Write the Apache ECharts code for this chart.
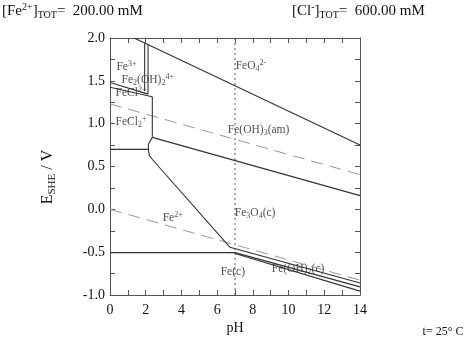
<!DOCTYPE html>
<html><head><meta charset="utf-8">
<script src="https://cdn.jsdelivr.net/npm/echarts@6/dist/echarts.min.js"></script>
<style>html,body{margin:0;padding:0;background:#fff}#c{width:474px;height:340px}</style>
</head><body><div id="c"></div>
<script>
// ---- data (pH, E / V) ----
const xTickLabels = ['0','2','4','6','8','10','12','14'];
const yTickLabels = ['-1.0','-0.5','0.0','0.5','1.0','1.5','2.0'];
const feo4Line   = [[1.35, 2.0], [14, 0.75]];
const fe3VertA   = [[1.94, 1.938], [1.94, 1.38]];
const fe3VertB   = [[2.13, 1.92], [2.13, 1.345]];
const feclUpper  = [[0, 1.48], [2.13, 1.345]];
const feclLower  = [[0, 1.425], [2.37, 1.315]];
const fecl2Vert  = [[2.37, 1.315], [2.37, 0.84]];
const feoh3Fe3o4 = [[2.37, 0.84], [14, 0.16]];
const fe2Fe3o4   = [[2.37, 0.84], [2.15, 0.76], [2.15, 0.70], [2.2, 0.63], [2.4, 0.576], [6.72, -0.443]];
const fecl2Fe2   = [[0, 0.70], [2.15, 0.70]];
const fe2Fe      = [[0, -0.505], [7.0, -0.505]];
const fe3o4Upper = [[6.72, -0.443], [14, -0.86]];
const fe3o4Mid   = [[7.0, -0.505], [14, -0.905]];
const fe3o4Low   = [[7.0, -0.515], [14, -0.955]];
const o2Water    = [[0, 1.23], [14, 0.404]];
const h2Water    = [[0, 0.0], [14, -0.827]];
const neutral    = [[7, -1], [7, 2]];
const speciesNames = ['Fe{sup|3+}', 'Fe{sub|2}(OH){sub|2}{sup|4+}', 'FeCl{sup|2+}', 'FeCl{sub|2}{sup|+}', 'FeO{sub|4}{sup|2-}',
  'Fe(OH){sub|3}(am)', 'Fe{sup|2+}', 'Fe{sub|3}O{sub|4}(c)', 'Fe(c)', 'Fe(OH){sub|2}(c)'];
const speciesPH = [0.36, 0.65, 0.31, 0.31, 7.04, 6.6, 2.95, 6.99, 6.2, 9.06];
const speciesE  = [1.66, 1.51, 1.36, 1.02, 1.67, 0.93, -0.10, -0.04, -0.73, -0.70];

const FONT = '"Liberation Serif", "DejaVu Serif", serif';
const rich = {
  sup: {fontSize: 8, fontFamily: FONT, color: '#222', padding: [0, 0, 6, 0]},
  sub: {fontSize: 8, fontFamily: FONT, color: '#222', padding: [6, 0, 0, 0]}
};
const solid = d => ({type: 'line', data: d, showSymbol: false, silent: true, animation: false,
  lineStyle: {color: '#333', width: 1.1}, xAxisIndex: 0, yAxisIndex: 0});
const dashed = d => ({type: 'line', data: d, showSymbol: false, silent: true, animation: false,
  lineStyle: {color: '#999', width: 1, type: [12, 7]}});

const chart = echarts.init(document.getElementById('c'), null, {renderer: 'canvas'});
const axisCommon = {
  type: 'value', splitLine: {show: false},
  axisLine: {show: true, onZero: false, lineStyle: {color: '#555', width: 1}},
  axisTick: {show: true, inside: true, length: 5, lineStyle: {color: '#555'}}
};
const headRich = {sup: {fontSize: 10, fontFamily: FONT, padding: [0, 0, 8, 0]}, sub: {fontSize: 10, fontFamily: FONT, padding: [8, 0, 0, 0]}};
chart.setOption({
  backgroundColor: '#fff',
  animation: false,
  grid: {left: 110, right: 114, top: 38, bottom: 45},
  xAxis: [
    Object.assign({}, axisCommon, {min: 0, max: 14, interval: 1, position: 'bottom',
      axisLabel: {margin: 8, fontFamily: FONT, fontSize: 14, color: '#111',
        formatter: v => xTickLabels.includes(String(v)) ? String(v) : ''}}),
    Object.assign({}, axisCommon, {min: 0, max: 14, interval: 1, position: 'top', axisLabel: {show: false}})
  ],
  yAxis: [
    Object.assign({}, axisCommon, {min: -1, max: 2, interval: 0.25, position: 'left',
      axisLabel: {margin: 5, fontFamily: FONT, fontSize: 14, color: '#111',
        formatter: v => { const s = v.toFixed(1); return (yTickLabels.includes(s) && Math.abs(v*2 - Math.round(v*2)) < 1e-6) ? s : ''; }}}),
    Object.assign({}, axisCommon, {min: -1, max: 2, interval: 0.25, position: 'right', axisLabel: {show: false}})
  ],
  series: [
    dashed(o2Water), dashed(h2Water),
    {type: 'line', data: neutral, showSymbol: false, silent: true, lineStyle: {color: '#555', width: 1, type: [2, 3]}},
    solid(feo4Line), solid(fe3VertA), solid(fe3VertB), solid(feclUpper), solid(feclLower),
    solid(fecl2Vert), solid(feoh3Fe3o4), solid(fe2Fe3o4), solid(fecl2Fe2), solid(fe2Fe),
    solid(fe3o4Upper), solid(fe3o4Mid), solid(fe3o4Low),
    {type: 'scatter', symbolSize: 0, silent: true,
      data: speciesNames.map((n, i) => ({name: n, value: [speciesPH[i], speciesE[i]]})),
      label: {show: true, position: [0, 0], align: 'left', verticalAlign: 'middle',
        formatter: p => p.name, fontFamily: FONT, fontSize: 11.5, color: '#222', rich: rich}}
  ],
  graphic: [
    {type: 'text', left: 2, top: 2, style: {text: '[Fe{sup|2+}]{sub|TOT}=  200.00 mM', font: '15px ' + FONT, fill: '#111', rich: headRich}},
    {type: 'text', left: 292, top: 2, style: {text: '[Cl{sup|-}]{sub|TOT}=  600.00 mM', font: '15px ' + FONT, fill: '#111', rich: headRich}},
    {type: 'text', x: 235, y: 328, style: {text: 'pH', font: '14px ' + FONT, fill: '#111', align: 'center', verticalAlign: 'middle'}},
    {type: 'text', x: 443, y: 332, style: {text: 't= 25° C', font: '12px ' + FONT, fill: '#111', align: 'center', verticalAlign: 'middle'}},
    {type: 'text', x: 48, y: 177, rotation: Math.PI / 2,
      style: {text: 'E{sub|SHE} / V', font: '16px ' + FONT, fill: '#111', align: 'center', verticalAlign: 'middle',
        rich: {sub: {fontSize: 11, fontFamily: FONT, padding: [8, 0, 0, 0]}}}}
  ]
});
</script></body></html>
